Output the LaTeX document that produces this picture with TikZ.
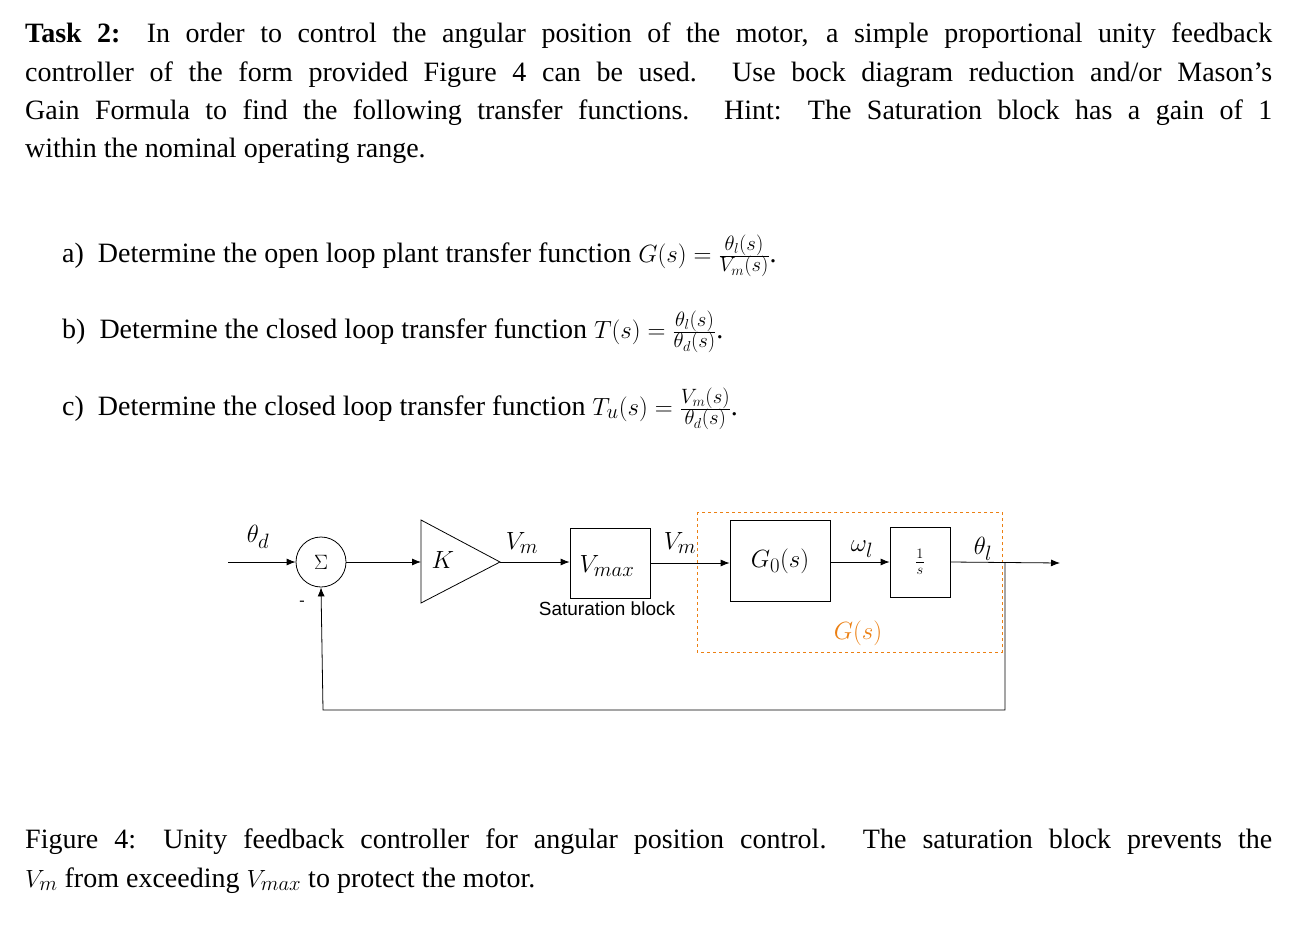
\documentclass[tikz,border=0pt]{standalone}
\usepackage{fontspec}
\setmainfont{Liberation Serif}
\setsansfont{Liberation Sans}
\usetikzlibrary{arrows.meta}
\begin{document}
\begin{tikzpicture}[x=1pt,y=-1pt,
  txt/.style={anchor=base west,inner sep=0,font=\fontsize{28}{32}\selectfont},
  blk/.style={draw,thick,inner sep=0},
  sig/.style={thick,-{Latex[length=9pt,width=7pt]}},
  lab/.style={inner sep=0,font=\fontsize{28}{32}\selectfont}]
\useasboundingbox (0,0) rectangle (1298,928);
\fill[white] (0,0) rectangle (1298,928);
% text
\node[txt] (l1) at (25,43) {\makebox[1247pt][s]{\textbf{Task 2:} In order to control the angular position of the motor, a simple proportional unity feedback}};
\node[txt] (l2) at (25,82) {\makebox[1247pt][s]{controller of the form provided Figure 4 can be used. Use bock diagram reduction and/or Mason's}};
\node[txt] (l3) at (25,120) {\makebox[1247pt][s]{Gain Formula to find the following transfer functions. Hint: The Saturation block has a gain of 1}};
\node[txt] (l4) at (25,158) {within the nominal operating range.};
\node[txt] (qa) at (62,262) {a)\ \ Determine the open loop plant transfer function $G(s)=\frac{\theta_l(s)}{V_m(s)}$.};
\node[txt] (qb) at (62,338) {b)\ \ Determine the closed loop transfer function $T(s)=\frac{\theta_l(s)}{\theta_d(s)}$.};
\node[txt] (qc) at (62,415) {c)\ \ Determine the closed loop transfer function $T_u(s)=\frac{V_m(s)}{\theta_d(s)}$.};
\node[txt] (c1) at (25,848) {\makebox[1247pt][s]{Figure 4: Unity feedback controller for angular position control. The saturation block prevents the}};
\node[txt] (c2) at (25,887) {$V_m$ from exceeding $V_{max}$ to protect the motor.};
% diagram
\draw[orange!70!brown,dashed,thick] (697,512) rectangle (1002,652);
\node[text=orange!70!brown,lab] (gs) at (858,633) {$G(s)$};
\coordinate (in) at (228,562);
\node[draw,thick,circle,minimum size=50pt,inner sep=0,font=\fontsize{22}{24}\selectfont] (sum) at (321,562) {$\Sigma$};
\coordinate (kw) at (421,562);
\coordinate (ka) at (500,562);
\draw[thick] (421,520) -- (ka) -- (421,603) -- cycle;
\node[lab] (kl) at (443,560) {$K$};
\node[blk,minimum width=80pt,minimum height=70pt] (sat) at (610,563) {};
\node[lab] (satl) at (607,566) {$V_{max}$};
\node[inner sep=0,font=\sffamily\fontsize{19}{22}\selectfont] (satt) at (607,609) {Saturation block};
\node[blk,minimum width=100pt,minimum height=81pt,font=\fontsize{28}{32}\selectfont] (g0) at (780,561) {$G_0(s)$};
\node[blk,minimum width=60pt,minimum height=70pt,font=\fontsize{20}{24}\selectfont] (int) at (920,562) {$\frac{1}{s}$};
\coordinate (out) at (1060,563);
\coordinate (tap) at (1005,563);
\coordinate (bl) at (1005,710);
\coordinate (br) at (323,710);
\draw[sig] (in) -- (sum);
\draw[sig] (sum) -- (kw);
\draw[sig] (ka) -- (sat.west|-ka);
\draw[sig] (sat.east) -- (g0.west|-sat.east);
\draw[sig] (g0.east|-int) -- (int.west);
\draw[sig] (int.east) -- (out);
\draw[sig] (tap) -- (bl) -- (br) -- (sum.south);
\node[lab] (td) at (258,537) {$\theta_d$};
\node[lab] (vm1) at (522,543) {$V_m$};
\node[lab] (vm2) at (680,543) {$V_m$};
\node[lab] (wl) at (862,549) {$\omega_l$};
\node[lab] (tl) at (983,549) {$\theta_l$};
\node[inner sep=0,font=\fontsize{16}{18}\selectfont] (minus) at (302,603) {-};
\end{tikzpicture}
\end{document}
